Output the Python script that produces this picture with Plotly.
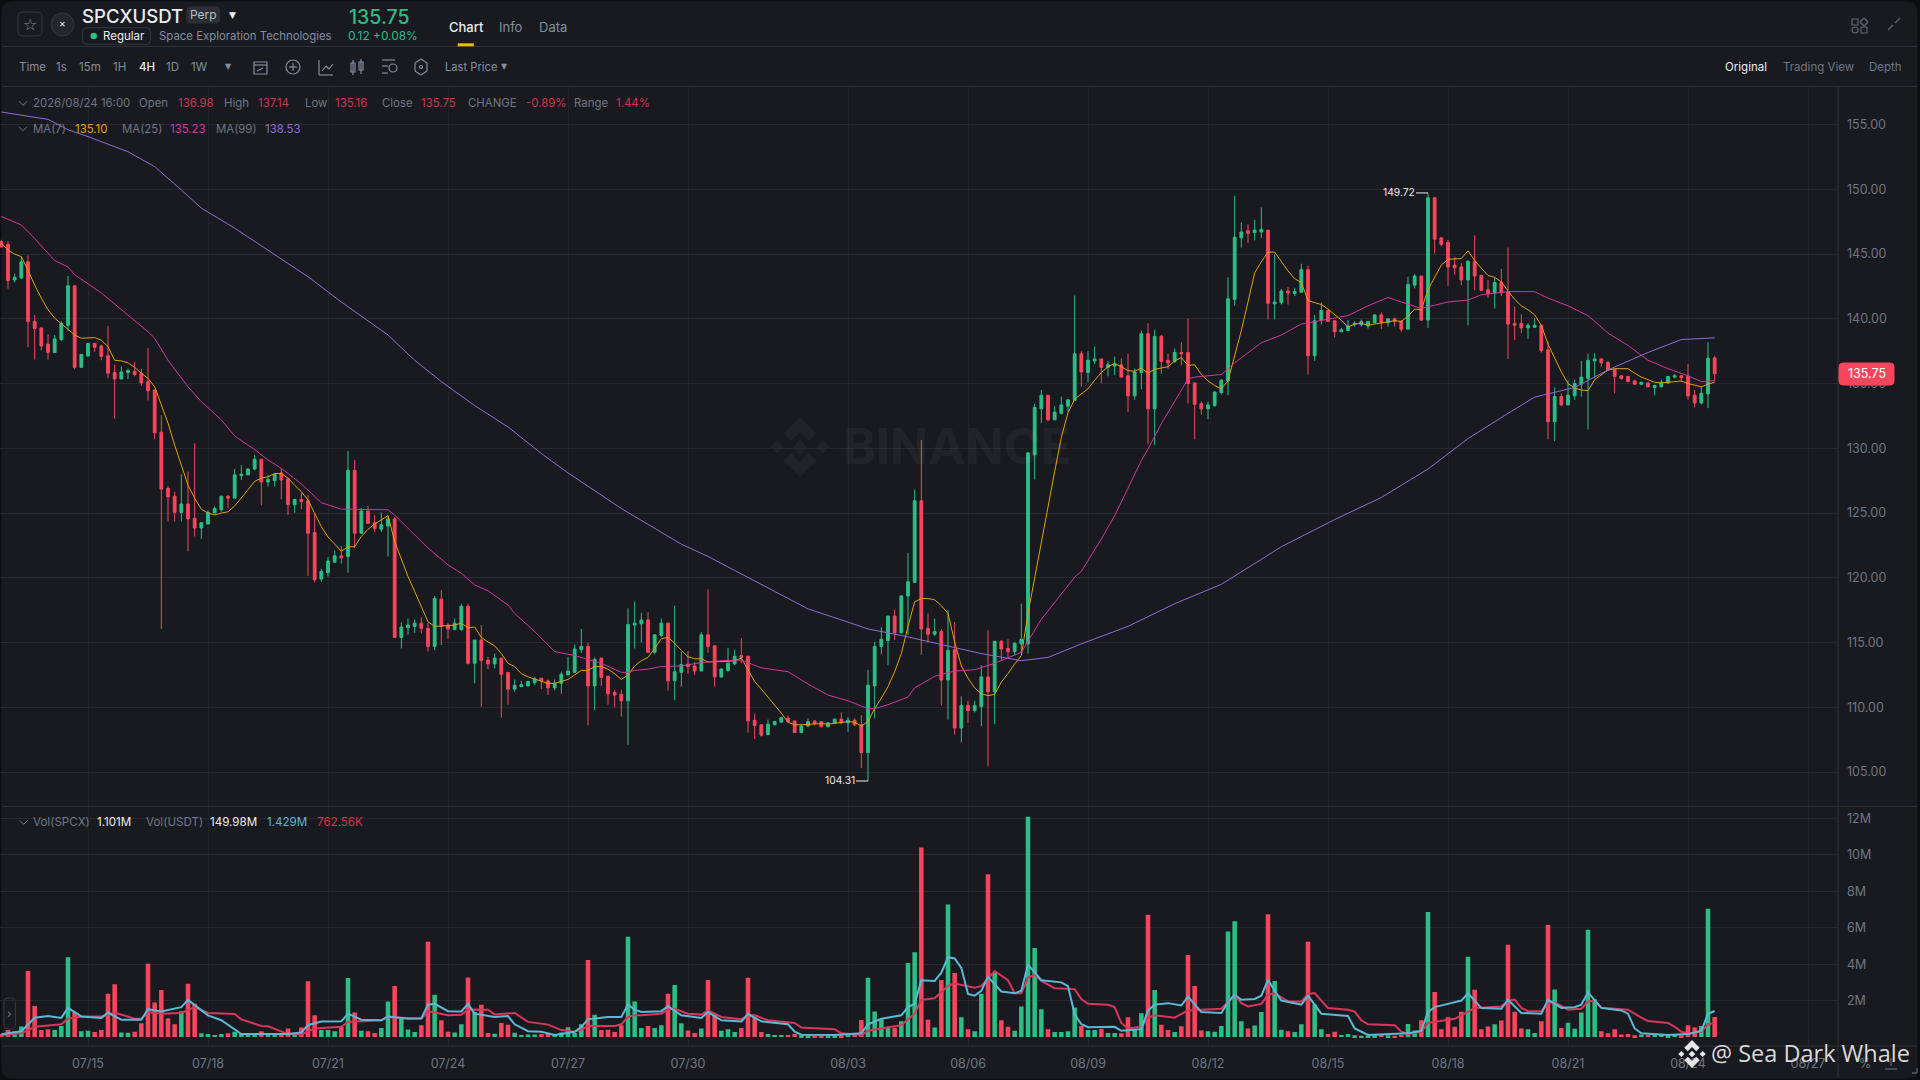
import plotly.graph_objs as go
from plotly.subplots import make_subplots
import pandas as pd

# 4H candles, values (bar -1 is the clipped one at the left edge)
opens = [145.96,
    145.75,143.0,143.15,144.4,139.8,139.3,138.05,137.4,138.4,139.5,
    142.55,136.25,137.15,138.1,137.9,137.15,135.85,135.35,135.85,135.95,
    135.8,135.15,134.5,131.25,126.9,126.3,125.05,125.7,124.6,123.85,
    124.15,125,125.25,126.3,126.15,127.9,127.95,128.4,129.15,127.4,
    127.5,128.1,127.65,125.65,126.05,125.95,123.5,119.9,120.4,121.2,
    121.7,121.65,128.3,123.45,125.15,124.25,123.75,124.0,124.55,115.4,
    116.15,116.25,116.5,116.1,114.7,118.35,116.35,116.0,116,117.8,
    113.4,115.2,113.65,113.35,113.8,112.7,111.4,111.6,111.65,111.9,
    112.25,112.05,111.5,111.85,112.5,112.7,114.45,114.7,111.65,113.8,
    112.4,111.15,111.0,110.5,116.35,116.45,116.75,114.25,115.55,116.5,
    112.05,112.7,113.35,113.2,112.8,115.6,114.75,112.35,112.85,113.35,
    114.0,113.95,109.0,108.65,107.9,108.65,108.85,109.15,108.95,108.05,
    108.55,108.95,108.9,108.5,108.75,109.1,108.8,109.0,108.65,106.5,
    111.65,114.7,115.15,117.05,115.75,118.6,119.65,125.95,116.1,115.65,
    115.85,112.1,114.45,108.4,110.15,109.75,110.05,112.35,111.2,115.1,
    114.55,114.3,114.9,114.9,129.5,133.05,134.1,132.2,132.7,133.25,
    133.7,137.3,135.85,136.75,136.9,136.25,136.35,136.45,135.6,134.05,
    135.85,138.85,133.05,138.65,136.8,136.7,137.4,137.4,135.05,133.45,
    133.05,133.3,134.3,135.2,141.5,146.25,146.8,146.65,146.7,146.85,
    141.15,141.25,142.15,141.95,142.05,143.8,137.15,139.9,140.65,139.85,
    139.0,139.1,139.55,139.55,139.45,139.7,140.3,139.7,140.0,139.8,
    139.2,142.6,143.3,139.9,149.35,146.25,145.9,144.15,144.0,143.0,
    144.45,143.35,142.25,142.0,142.8,142.1,139.65,139.65,139.3,139.35,
    139.5,137.6,132.05,134.0,133.35,134.05,134.95,135.4,136.75,136.9,
    136.65,136.1,135.6,135.55,135.2,134.95,135.05,134.7,134.75,135.05,
    135.5,135.6,135.55,134.1,133.5,134.2,136.98]

highs = [146.1,
    146.0,143.5,144.8,144.9,140.3,139.3,138.8,138.75,139.8,143.3,
    142.55,137.25,138.15,138.15,138.0,139.45,136.45,136.3,136.15,136.65,
    136.15,137.75,134.5,132.55,127.1,126.65,128.0,128.2,130.4,124.3,
    125.2,125.5,126.35,126.4,128.4,128.7,128.45,129.5,129.15,127.95,
    128.1,128.45,127.65,126.05,126.55,126.4,124.95,120.7,121.6,122.1,
    122.45,129.8,129.1,125.4,125.55,124.85,125.05,124.8,124.7,116.55,
    116.85,116.8,116.95,116.5,118.6,119.05,116.5,116.85,118.0,118.0,
    115.2,116.35,113.9,114.15,113.8,112.7,112.15,112.05,112.0,112.35,
    112.25,112.15,112.15,112.75,113.9,114.85,116.05,115.0,113.85,113.8,
    112.4,111.35,111.35,117.65,118.15,117.3,117.35,115.6,116.85,116.55,
    117.85,114.3,114.35,113.5,115.8,119.1,114.75,113.0,114.6,114.45,
    115.35,113.95,109.5,108.65,109.05,108.95,109.25,109.35,108.95,108.7,
    109.15,109.0,108.9,108.85,109.1,109.6,109.25,109.15,109.4,112.9,
    115.05,116.2,117.05,117.55,118.65,121.9,126.8,130.65,117.25,116.85,
    116.05,117.5,116.6,110.85,110.5,110.5,113.25,115.95,115.1,115.2,
    115.25,115.0,118.0,129.7,133.45,134.5,134.1,133.25,134.0,133.8,
    141.8,137.5,137.5,137.85,136.9,136.75,137.1,136.95,137.3,136.15,
    139.1,139.65,139.15,138.75,137.3,137.7,138.2,140.0,135.05,133.6,
    133.6,134.4,135.35,143.2,149.5,147.45,147.3,147.65,148.6,146.85,
    144.95,142.3,142.45,142.4,144.25,144.1,140.3,141.25,140.65,139.85,
    139.3,139.9,139.8,139.95,139.8,140.35,140.5,140.05,140.1,139.9,
    143.25,143.45,143.3,149.72,149.35,146.25,146.1,144.8,144.3,144.5,
    146.45,143.35,143.0,143.2,143.85,145.5,140.95,140.35,139.65,140.05,
    139.5,138.25,134.7,134.25,135.25,135.3,136.75,137.3,137.35,136.95,
    136.7,136.1,135.6,135.6,135.3,135.15,135.1,134.9,135.3,135.55,
    135.75,135.65,136.5,134.5,134.75,138.2,137.14]

lows = [145.5,
    142.33,142.8,143.1,137.8,136.85,137.55,136.85,137.4,138.3,139.05,
    136.1,136.2,137.05,137.45,136.8,135.4,132.3,135.35,135.35,135.55,
    134.8,133.7,130.7,116.05,124.35,124.35,124.35,122.05,123.2,123.0,
    124.15,125,125.1,125.4,126.15,127.55,127.9,128.3,125.6,127.05,
    127.05,126.05,124.85,125.0,125.3,120.15,119.65,119.7,120.1,121.2,
    121.1,120.4,122.3,123.4,124.2,123.55,123.55,121.65,115.35,114.55,
    115.6,115.75,115.7,114.3,114.4,114.8,115.25,116,115.9,113.3,
    111.85,110.05,112.95,113.0,109.2,110.2,111.2,111.55,111.6,111.7,
    111.4,110.95,111.3,111.05,112.5,112.7,114.2,108.6,109.8,111.65,
    110.2,110.0,109.3,107.1,114.55,115.0,114.2,114.1,115.45,111.3,
    110.55,111.6,112.6,112.5,112.8,114.2,111.6,112.3,112.75,113.25,
    113.4,108.05,107.55,107.75,107.85,108.6,108.85,108.8,108.05,108.0,
    108.5,108.6,108.45,108.45,108.75,108.7,108.1,108.55,105.3,104.31,
    109.15,114.1,113.25,115.2,115.7,115.6,119.6,114.05,115.0,115.5,
    110.15,109.05,107.9,107.3,108.8,109.6,108.55,105.45,108.7,113.6,
    113.9,114.0,114.15,114.15,127.6,131.95,132.1,132.2,132.6,132.8,
    133.7,134.75,135.1,136.5,135.05,135.55,135.65,135.5,132.8,133.75,
    134.55,130.35,130.25,135.75,136.15,136.6,136.4,133.45,130.7,132.6,
    132.25,133.2,134.15,134.1,141.0,145.5,145.85,146.05,146.25,139.95,
    139.95,141.1,141.1,141.75,142.05,135.7,136.75,139.55,139.75,138.55,
    139.0,139.05,139.4,139.4,139.25,139.65,139.2,139.4,139.4,139.0,
    139.2,142.35,139.85,139.3,145.05,145.6,142.55,143.4,142.6,139.5,
    142.2,142.2,141.6,140.8,141.75,136.9,138.35,138.9,138.45,139.3,
    137.4,130.7,130.55,133.25,133.35,133.75,134.0,131.45,135.4,136.3,
    136.0,134.25,135.3,135.1,134.9,134.9,134.7,134.1,134.7,135.0,
    135.4,135.15,133.75,133.15,133.4,133.1,135.16]

closes = [145.55,
    142.95,143.2,144.4,139.8,139.25,137.9,137.4,138.45,139.65,142.55,
    136.25,137.25,138.1,137.8,137.1,135.8,135.35,135.9,136.0,135.7,
    135.05,134.45,131.2,126.85,126.25,125.05,125.7,124.55,123.85,124.25,
    125.05,125.35,126.3,126.15,127.95,128.0,128.4,129.15,127.4,127.6,
    128.0,127.55,125.65,126.05,125.9,123.45,119.85,120.5,121.3,121.7,
    121.55,128.3,123.45,125.15,124.2,123.8,124.1,124.55,115.4,116.2,
    116.35,116.5,116.1,114.7,118.4,116.25,116.05,116.5,117.8,113.4,
    115.2,113.6,113.35,113.8,112.55,111.4,111.7,111.75,112.0,112.2,
    112.05,111.5,111.85,112.55,112.8,114.5,114.7,111.65,113.7,112.3,
    111.05,110.95,110.5,116.4,116.5,116.75,114.25,115.6,116.5,112.05,
    112.75,113.3,113.15,112.8,115.6,114.7,112.35,112.95,113.4,113.95,
    113.85,108.95,108.6,107.85,108.7,108.9,109.2,108.9,108.05,108.55,
    108.9,108.75,108.5,108.8,109.1,108.8,109.0,108.65,106.5,111.7,
    114.7,115.25,117.05,115.75,118.6,119.7,125.95,116.05,115.65,115.85,
    112.1,114.4,108.4,110.15,109.75,110.15,112.35,111.2,115.1,114.5,
    114.3,114.95,115.25,129.65,133.15,134.1,132.2,132.8,133.35,133.75,
    137.3,135.9,136.8,136.9,136.25,136.45,136.5,135.5,134.05,135.9,
    138.85,133.05,138.65,136.7,136.6,137.4,137.3,135.0,133.4,133.05,
    133.35,134.35,135.25,141.55,146.3,146.7,146.6,146.85,146.9,141.2,
    141.3,142.15,142.0,142.1,143.8,137.15,139.85,140.65,139.8,139.0,
    139.15,139.45,139.65,139.8,139.8,140.3,139.7,140.0,139.8,139.2,
    142.65,143.3,139.9,149.35,146.15,145.75,144.0,143.95,143.0,144.45,
    143.3,142.2,141.95,142.8,142.0,139.6,139.5,139.3,139.5,139.5,
    137.55,132.05,134.0,133.35,134.1,135.0,135.5,136.8,136.9,136.6,
    136.05,135.55,135.4,135.15,134.95,135.1,134.75,134.85,135.1,135.55,
    135.6,135.45,134.05,133.5,134.25,136.95,135.75]

volumes = [.15,
    .38,.3,.58,3.62,1.7,.38,.43,.38,.6,4.38,
    1.37,.32,.34,.27,.38,2.38,2.9,.25,.23,.29,
    .76,4.02,1.89,2.58,1.03,.7,1.42,2.92,1.82,.2,
    .16,.11,.16,.2,.29,.16,.14,.11,.31,.14,
    .14,.13,.47,.16,.52,3.06,1.19,.38,.38,.31,
    .56,3.24,1.35,.34,.32,.22,.5,1.95,2.8,1.0,
    .41,.27,.65,5.23,2.32,.92,.29,.25,.7,3.27,
    1.37,1.77,.22,.18,.77,.68,.23,.11,.14,.14,
    .16,.2,.11,.25,.54,.22,.7,4.23,1.22,.38,
    .4,.27,.65,5.5,1.95,.49,.61,.5,.65,2.38,
    2.85,.76,.36,.22,.47,3.13,1.23,.34,.43,.27,
    .49,3.25,1.08,.27,.16,.11,.11,.11,.16,.09,
    .09,.05,.05,.05,.07,.09,.22,.13,.94,3.25,
    1.4,1.0,.56,.49,.86,4.06,4.66,10.41,.95,.52,
    3.13,7.27,3.52,1.08,.43,.32,2.38,8.94,3.52,.92,
    .56,.34,1.68,12.09,4.89,1.53,.43,.27,.27,.31,
    1.62,.61,.38,.38,.45,.22,.22,.2,1.08,.43,
    1.3,6.71,2.58,.68,.38,.27,.59,4.5,2.8,.36,
    .31,.29,.61,5.8,6.36,.86,.47,.63,1.37,6.74,
    3.07,.4,.32,.27,.7,5.23,1.78,.43,.16,.29,
    .11,.16,.09,.07,.07,.09,.11,.09,.07,.11,
    .72,.36,.92,6.87,2.47,.43,1.08,.56,1.39,4.41,
    2.59,.43,.58,.7,.9,5.07,1.39,.47,.43,.22,
    .86,6.15,2.61,.49,.79,.45,1.35,5.89,2.07,.31,
    .2,.43,.14,.16,.09,.14,.11,.13,.11,.09,
    .11,.09,.65,.52,.61,7.04,1.101]

ma7 = [145.85,
    145.3,145.0,144.8,143.75,142.6,141.6,140.7,140.05,139.6,139.2,
    138.75,138.5,138.5,138.55,138.35,137.85,136.8,136.75,136.6,136.25,
    135.8,135.4,134.75,133.35,131.95,130.25,128.7,127.15,126.15,125.3,
    125.0,124.85,125,125.1,125.55,126.15,126.8,127.45,127.7,127.8,
    128.05,128.05,127.7,127.15,126.65,126.0,125.0,123.95,123.15,122.6,
    122.05,122.4,122.4,123.2,123.75,124.15,124.45,124.8,122.8,121.4,
    120.1,118.95,117.8,116.6,116.25,116.3,116.3,116.35,116.5,116.15,
    116.2,115.4,115.05,114.75,114.15,113.4,113.15,112.6,112.35,112.2,
    112,111.85,111.85,112,112.15,112.5,112.85,112.85,113.15,113.15,
    112.95,112.6,112.15,112.5,113.2,113.6,113.85,114.55,115.3,115.4,
    114.95,114.4,113.9,113.75,113.75,113.5,113.5,113.5,113.55,113.6,
    113.8,112.9,112,111.4,110.8,110.2,109.55,108.85,108.65,108.65,
    108.7,108.75,108.75,108.7,108.75,108.85,108.9,108.85,108.55,108.9,
    109.9,110.7,111.6,112.75,114.15,116.25,118.15,118.4,118.4,118.3,
    117.85,117.25,115.05,113.2,112.25,111.5,111.05,110.9,111.0,111.95,
    112.6,113.35,114,117.25,120.05,122.7,125.4,128.2,130.85,132.75,
    133.8,134.2,134.6,135.25,135.85,136.3,136.55,136.3,136,135.95,
    136.2,135.8,136.1,136.2,136.3,136.75,137,136.4,136.45,135.7,
    135.2,134.85,134.6,135.2,137.05,139.1,141.3,143.55,144.4,145.15,
    145.15,144.4,143.7,143.1,142.8,141.4,141.25,141.1,140.75,140.3,
    139.9,139.35,139.6,139.65,139.5,139.6,139.7,139.8,139.85,139.8,
    140.2,140.75,140.7,142.25,143.25,144.15,144.6,144.65,144.65,145.25,
    144.5,143.9,143.35,143.2,142.85,142.15,141.5,141,140.7,140.3,
    139.5,138.05,136.95,135.9,135,134.65,134.5,134.45,135.3,135.65,
    136.05,136.15,136.15,136.15,135.8,135.5,135.3,135.1,135.05,135.1,
    135.15,135.2,135,134.9,134.75,134.95,135.1]

# the slower lines are read at fewer bars
ma25_bars = [-1,2,4,7,9,10,14,18,21,22,24,27,29,32,34,37,39,41,44,47,50,51,57,58,63,66,68,70,72,75,76,79,82,85,87,89,
             92,93,94,96,98,101,104,107,110,113,117,120,123,126,128,129,130,132,135,136,139,142,145,148,152,155,158,
             160,161,164,166,170,171,173,177,178,182,184,188,191,194,196,201,204,207,209,212,214,216,219,221,225,229,
             231,234,237,240,243,246,249,252,254,256]
ma25 = [147.9,147.25,146.2,144.5,144,143.4,142,140.3,139,138.5,136.8,134.75,133.6,132.2,130.95,129.9,129.1,128.45,127.25,
        125.8,125.3,125.3,125.25,124.85,122.3,121,120.35,119.45,119.0,117.9,117.25,115.85,114.3,114,113.7,113.4,
        112.7,112.7,112.85,112.95,113.15,113.2,113.45,113.6,113.65,113.05,112.75,111.8,110.95,110.5,110.1,109.9,109.9,110.2,110.8,111.5,112.4,112.8,112.9,113.4,114.25,116.8,118.75,
        120.05,120.5,123.0,124.8,129.05,129.95,131.9,135.35,135.5,135.7,136.6,138.15,138.75,139.6,139.8,140.25,141,141.65,141.3,140.8,141.05,141.3,141.45,141.85,142.1,142.1,
        141.6,141,140.25,138.9,137.95,136.8,136.15,135.6,135.15,135.23]

ma99_bars = [-1,2,6,9,12,18,22,26,29,34,39,45,50,57,61,65,70,75,80,84,92,101,105,110,115,120,125,129,134,141,146,152,156,
             161,168,175,182,187,191,199,206,213,219,225,229,235,240,246,251,256]
ma99 = [155.97,155.74,155.4,154.6,154.07,152.9,151.75,149.95,148.55,147,145.3,143.25,141.3,138.75,136.8,135.15,133.3,131.65,
        129.6,128.1,125.35,122.6,121.65,120.3,118.95,117.6,116.75,116.05,115.55,114.7,114.15,113.6,113.85,
        114.9,116.25,118,119.5,121.1,122.4,124.5,126.2,128.4,130.75,132.7,133.95,134.7,136.05,137.4,138.4,138.53]

vol_ma5_bars = [-1,2,4,6,8,9,11,14,15,17,20,21,23,26,27,30,32,35,42,44,45,47,50,51,53,56,57,60,62,63,64,66,68,69,70,73,75,76,78,80,82,85,86,87,90,92,93,94,
                95,98,99,101,104,105,107,110,111,113,117,118,119,124,128,129,131,134,135,136,137,139,140,141,142,143,144,145,146,147,149,151,152,153,155,158,159,160,161,162,166,167,170,171,172,174,176,177,179,182,183,184,185,187,188,189,190,
                191,194,195,197,201,202,204,210,212,213,214,216,218,219,221,224,225,227,230,231,233,235,236,237,239,242,243,244,245,249,252,254,255,256]
vol_ma5 = [.15,.32,1.06,1.15,1.05,1.6,1.13,1.05,1.33,.95,.95,1.53,1.4,1.64,2.04,1.19,.92,.16,.16,.25,.65,.85,.86,1.28,.95,.92,1.13,1.0,1.03,1.77,1.82,1.42,1.4,1.82,1.28,1.1,1.15,.7,.32,.29,.11,.29,.56,.97,1.1,1.1,1.78,1.5,
           1.37,1.42,1.69,1.19,1.05,1.37,.92,.85,1.26,.86,.7,.29,.13,.11,.2,.7,1.0,1.19,1.64,1.82,3.12,3.08,3.53,4.38,4.31,3.8,2.36,2.27,2.54,3.3,2.5,2.4,2.54,3.98,3.12,3.0,2.79,1.24,.7,.54,.56,.34,.43,1.46,1.78,1.86,1.73,2.22,1.37,1.32,1.91,2.32,2.05,2.09,2.27,3.14,2.54,
           2.0,1.78,2.27,1.28,1.15,.47,.11,.2,.34,1.37,1.64,1.82,2.0,2.4,1.59,1.55,2.05,1.32,1.28,2.05,1.6,1.64,1.78,2.45,1.6,1.46,1.28,.47,.2,.11,.16,.34,1.28,1.429]

vol_ma10_bars = [-1,2,4,8,9,11,14,16,19,20,21,23,26,28,30,34,35,38,39,42,44,46,50,51,56,57,62,63,66,68,69,72,73,76,78,81,83,85,86,87,91,92,93,94,
                 95,98,99,100,102,104,105,107,110,111,112,114,118,119,124,125,128,129,133,134,136,137,139,141,142,145,146,148,150,151,152,153,154,155,157,160,161,162,165,166,167,168,170,171,172,175,177,182,184,185,186,188,189,190,
                 191,192,194,195,196,198,201,202,203,204,208,209,210,212,213,217,218,219,220,224,225,226,227,228,230,231,232,234,236,237,238,239,243,245,246,249,250,251,252,254,255,256]
vol_ma10 = [.11,.2,.56,.7,1.0,1.13,1.13,1.35,1.0,1.0,1.37,1.28,1.32,1.64,1.32,1.26,.97,.61,.59,.16,.14,.47,.56,.83,.92,1.1,1.0,1.42,1.19,1.22,1.51,1.5,1.24,1.32,.83,.68,.38,.29,.41,.61,.61,.7,1.1,1.19,
            1.19,1.28,1.51,1.55,1.28,1.23,1.46,1.1,.97,1.19,1.19,.92,.77,.52,.43,.2,.11,.34,.59,.65,1.28,2.04,2.13,2.81,2.94,2.7,2.81,3.62,3.12,2.4,2.4,3.26,3.4,3.08,2.68,2.63,2.09,1.82,1.77,1.64,.77,.47,.56,1.06,1.19,1.06,1.46,1.55,2.31,1.86,1.68,1.82,2.32,2.4,
            2.18,1.96,1.95,2.36,2.41,1.59,1.5,1.4,.92,.7,.65,.29,.16,.29,.77,1.0,1.19,1.37,1.59,1.68,2.0,2.05,1.6,1.42,1.42,1.87,1.91,1.5,1.55,1.95,2.0,1.6,1.5,1.06,.88,.77,.56,.29,.2,.29,.7,.76256]

first_bar = pd.Timestamp("2026-07-13 00:00")
bar_step = pd.Timedelta(hours=4)


def bar_time(i):
    return first_bar + i * bar_step


times = [bar_time(i) for i in range(-1, 257)]

date_ticks = ["2026-07-15", "2026-07-18", "2026-07-21", "2026-07-24", "2026-07-27", "2026-07-30", "2026-08-03",
              "2026-08-06", "2026-08-09", "2026-08-12", "2026-08-15", "2026-08-18", "2026-08-21", "2026-08-24",
              "2026-08-27"]
date_labels = ["07/15", "07/18", "07/21", "07/24", "07/27", "07/30", "08/03", "08/06", "08/09", "08/12", "08/15",
               "08/18", "08/21", "08/24", "08/27"]
price_ticks = [105, 110, 115, 120, 125, 130, 135, 140, 145, 150, 155]
vol_ticks = [2, 4, 6, 8, 10, 12]
vol_labels = ["2M", "4M", "6M", "8M", "10M", "12M"]

W, H = 1920, 1080
BG = "#181a20"
GRID_X = "#212329"
GRID_Y = "#25282f"
LINE = "#2b3139"
GREEN = "#2ebd85"
RED = "#f6465d"
DIM_RED = "#d9304e"
GREY = "#6f7683"
SOFT = "#848e9c"
WHITE = "#eaecef"
PURPLE = "#8f6bd8"
FONT = "Inter"


def fx(x):
    return x / W


def fy(y):
    return 1 - y / H


def poly(points):
    return "M " + " L ".join(f"{fx(x):.5f},{fy(y):.5f}" for x, y in points) + " Z"


fig = make_subplots(rows=2, cols=1, shared_xaxes=True)

fig.add_trace(go.Candlestick(x=times, open=opens, high=highs, low=lows, close=closes,
                             increasing=dict(line=dict(color=GREEN, width=1), fillcolor=GREEN),
                             decreasing=dict(line=dict(color=RED, width=1), fillcolor=RED),
                             whiskerwidth=0, hoverinfo="skip"), row=1, col=1)
fig.add_trace(go.Scatter(x=times, y=ma7, mode="lines", line=dict(color="#e3a008", width=1)), row=1, col=1)
fig.add_trace(go.Scatter(x=[bar_time(i) for i in ma25_bars], y=ma25, mode="lines",
                         line=dict(color="#d6339e", width=1)), row=1, col=1)
fig.add_trace(go.Scatter(x=[bar_time(i) for i in ma99_bars], y=ma99, mode="lines",
                         line=dict(color=PURPLE, width=1)), row=1, col=1)

bar_colors = [GREEN if c >= o else RED for o, c in zip(opens, closes)]
fig.add_trace(go.Bar(x=times, y=volumes, marker=dict(color=bar_colors, line_width=0)), row=2, col=1)
fig.add_trace(go.Scatter(x=[bar_time(i) for i in vol_ma10_bars], y=vol_ma10, mode="lines",
                         line=dict(color="#d9365c", width=2)), row=2, col=1)
fig.add_trace(go.Scatter(x=[bar_time(i) for i in vol_ma5_bars], y=vol_ma5, mode="lines",
                         line=dict(color="#5ab9d6", width=2)), row=2, col=1)

x_range = ["2026-07-12 19:12", "2026-08-27 18:00"]
x_style = dict(range=x_range, domain=[0, 1838 / W], tickmode="array", tickvals=date_ticks, showgrid=True,
               gridcolor=GRID_X, gridwidth=1, zeroline=False, showline=False, ticks="", fixedrange=True,
               rangeslider=dict(visible=False))
fig.update_xaxes(**x_style)
fig.update_xaxes(showticklabels=False, row=1, col=1)
fig.update_xaxes(ticktext=date_labels, showticklabels=True, tickfont=dict(family=FONT, size=12.5, color=GREY),
                 ticklabelstandoff=9, row=2, col=1)

fig.update_yaxes(side="right", showgrid=True, gridcolor=GRID_Y, gridwidth=1, zeroline=False, showline=False, ticks="",
                 tickfont=dict(family=FONT, size=12.5, color=GREY), ticklabelstandoff=8, fixedrange=True)
fig.update_yaxes(domain=[fy(806), fy(87)], range=[102.38, 157.9], tickmode="array", tickvals=price_ticks,
                 tickformat=".2f", row=1, col=1)
fig.update_yaxes(domain=[fy(1045.5), fy(807)], range=[-0.466, 12.63], tickmode="array", tickvals=vol_ticks,
                 ticktext=vol_labels, row=2, col=1)

shapes = []
annotations = []


def label(x, y, text, color=GREY, size=12, anchor="left", weight=400, family=FONT):
    if anchor == "left":
        x -= 1.2  # annotation boxes carry a little padding
    annotations.append(dict(xref="paper", yref="paper", x=fx(x), y=fy(y), text=text, showarrow=False,
                            xanchor=anchor, yanchor="middle", borderpad=0,
                            font=dict(family=family, size=size, color=color, weight=weight)))


def hline(x0, x1, y, color=LINE, width=1):
    shapes.append(dict(type="line", xref="paper", yref="paper", x0=fx(x0), x1=fx(x1), y0=fy(y), y1=fy(y),
                       line=dict(color=color, width=width)))


def seg(x0, y0, x1, y1, color=SOFT, width=1.2):
    shapes.append(dict(type="line", xref="paper", yref="paper", x0=fx(x0), x1=fx(x1), y0=fy(y0), y1=fy(y1),
                       line=dict(color=color, width=width)))


def box(x0, y0, x1, y1, fill="rgba(0,0,0,0)", color=SOFT, width=1.2, kind="rect", layer="above"):
    shapes.append(dict(type=kind, xref="paper", yref="paper", x0=fx(x0), x1=fx(x1), y0=fy(y1), y1=fy(y0),
                       fillcolor=fill, line=dict(color=color, width=width), layer=layer))


def rounded(x0, y0, x1, y1, r, fill, color=None, width=1, layer="above"):
    p = (f"M {fx(x0 + r)},{fy(y0)} L {fx(x1 - r)},{fy(y0)} Q {fx(x1)},{fy(y0)} {fx(x1)},{fy(y0 + r)} "
         f"L {fx(x1)},{fy(y1 - r)} Q {fx(x1)},{fy(y1)} {fx(x1 - r)},{fy(y1)} "
         f"L {fx(x0 + r)},{fy(y1)} Q {fx(x0)},{fy(y1)} {fx(x0)},{fy(y1 - r)} "
         f"L {fx(x0)},{fy(y0 + r)} Q {fx(x0)},{fy(y0)} {fx(x0 + r)},{fy(y0)} Z")
    shapes.append(dict(type="path", xref="paper", yref="paper", path=p, fillcolor=fill, layer=layer,
                       line=dict(color=color or fill, width=width)))


def binance_logo(cx, cy, s, color, layer="above"):
    parts = [
        [(0, -1), (.55, -.45), (.3, -.2), (0, -.5), (-.3, -.2), (-.55, -.45)],
        [(0, 1), (.55, .45), (.3, .2), (0, .5), (-.3, .2), (-.55, .45)],
        [(0, -.24), (.24, 0), (0, .24), (-.24, 0)],
        [(-.76, -.22), (-.54, 0), (-.76, .22), (-.98, 0)],
        [(.76, -.22), (.98, 0), (.76, .22), (.54, 0)],
    ]
    for part in parts:
        shapes.append(dict(type="path", xref="paper", yref="paper", layer=layer, fillcolor=color, line_width=0,
                           path=poly([(cx + a * s, cy + b * s) for a, b in part])))


# panel
rounded(2, 2, 1917, 1078, 10, BG, layer="below")
hline(2, 1917, 46.5)
hline(2, 1917, 86.5)
hline(2, 1917, 806.5)
hline(2, 1917, 1046)
seg(1838, 87, 1838, 1078, LINE, 1)

# watermark
binance_logo(800, 447, 30, "rgba(255,255,255,0.045)", layer="below")
label(843, 446, "BINANCE", "rgba(255,255,255,0.045)", 50, weight=700)

# header
rounded(18, 12, 42, 36, 5, "rgba(0,0,0,0)", "#333840")
label(30, 24, "☆", SOFT, 16, "center", family="DejaVu Sans")
box(51, 13, 74, 36, "#23262d", "#333840", 1, "circle")
label(62.5, 24, "✕", WHITE, 8, "center", family="DejaVu Sans")
label(82, 16, "SPCXUSDT", WHITE, 18.6, weight=500)
rounded(187, 7, 219.5, 23, 3, "#2b2f36")
label(203, 15, "Perp", "#b7bdc6", 12, "center")
label(232, 15, "▼", WHITE, 9, "center", family="DejaVu Sans")
rounded(82.6, 27.7, 150.6, 44.3, 4, "rgba(0,0,0,0)", "#333840")
box(90.5, 32.8, 97, 39.3, GREEN, GREEN, 0, "circle")
label(103, 36, "Regular", WHITE, 11.5)
label(159, 36, "Space Exploration Technologies", SOFT, 11.4)
label(349, 17, "135.75", GREEN, 19.5, weight=500)
label(348, 36, "0.12 +0.08%", GREEN, 11.9)
label(449, 26.7, "Chart", WHITE, 13, weight=500)
label(499.5, 26.7, "Info", SOFT, 13)
label(539.5, 26.7, "Data", SOFT, 13)
shapes.append(dict(type="rect", xref="paper", yref="paper", x0=fx(457.7), x1=fx(473.8), y0=fy(46.3), y1=fy(43.3),
                   fillcolor="#f0b90b", line_width=0))
box(1852, 19, 1858, 25, color="#5e6673")
box(1852, 27, 1858, 33, color="#5e6673", kind="circle")
box(1861, 27, 1867, 33, color="#5e6673")
seg(1864, 18, 1868, 22, "#5e6673")
seg(1868, 22, 1864, 26, "#5e6673")
seg(1864, 26, 1860, 22, "#5e6673")
seg(1860, 22, 1864, 18, "#5e6673")
seg(1888, 30, 1893, 25, "#5e6673")
seg(1895, 23, 1900, 18, "#5e6673")

# toolbar
for tx, tt, tc in [(19.3, "Time", SOFT), (56.5, "1s", SOFT), (79.4, "15m", SOFT), (113.6, "1H", SOFT),
                   (139, "4H", WHITE), (165.7, "1D", SOFT), (191, "1W", SOFT)]:
    label(tx, 67.3, tt, tc, 11.5, weight=500 if tc == WHITE else 400)
label(228.5, 67, "▼", SOFT, 8, "center", family="DejaVu Sans")
label(445, 67.3, "Last Price", SOFT, 11.2)
label(504.5, 67, "▼", SOFT, 8, "center", family="DejaVu Sans")
label(1725, 67, "Original", WHITE, 11.5)
label(1783, 67, "Trading View", GREY, 11.5)
label(1869, 67, "Depth", GREY, 11.5)
box(254, 62, 267, 74)
seg(254, 65, 267, 65)
seg(263, 68, 257, 71)
box(286, 60, 300, 74, kind="circle")
seg(289, 67, 297, 67)
seg(293, 63, 293, 71)
seg(319, 60, 319, 75)
seg(319, 75, 333, 75)
seg(322, 71, 326, 66)
seg(326, 66, 329, 69)
seg(329, 69, 333, 64)
box(351, 63, 355, 72)
seg(353, 60, 353, 75)
box(359, 62, 363, 70)
seg(361, 59, 361, 74)
seg(382, 60, 395, 60)
seg(382, 66, 388, 66)
seg(382, 73, 388, 73)
box(389, 64, 397, 72, kind="circle")
seg(421, 59, 427, 63)
seg(427, 63, 427, 71)
seg(427, 71, 421, 75)
seg(421, 75, 415, 71)
seg(415, 71, 415, 63)
seg(415, 63, 421, 59)
box(419.5, 65.5, 422.5, 68.5, kind="circle")


def chevron(cx, cy):
    seg(cx - 4, cy - 2, cx, cy + 2, GREY, 1)
    seg(cx, cy + 2, cx + 4, cy - 2, GREY, 1)


# ohlc readout
chevron(23, 103.3)
for tx, tt, tc in [(33, "2026/08/24 16:00", GREY), (139, "Open", GREY), (177.7, "136.98", DIM_RED), (224, "High", GREY),
                   (258.5, "137.14", DIM_RED), (305, "Low", GREY), (335.6, "135.16", DIM_RED), (382.5, "Close", GREY),
                   (421.5, "135.75", DIM_RED), (468, "CHANGE", GREY), (526.6, "-0.89%", DIM_RED), (574, "Range", GREY),
                   (616.6, "1.44%", DIM_RED)]:
    label(tx, 102.8, tt, tc, 11.4)
chevron(23, 128.8)
for tx, tt, tc in [(33, "MA(7)", GREY), (74.8, "135.10", "#e3a008"), (121.7, "MA(25)", GREY), (170, "135.23", "#d6339e"),
                   (216, "MA(99)", GREY), (265, "138.53", PURPLE)]:
    label(tx, 128.8, tt, tc, 11.4)
chevron(23.7, 822.3)
for tx, tt, tc in [(33.5, "Vol(SPCX)", GREY), (97, "1.101M", WHITE), (146, "Vol(USDT)", GREY), (210, "149.98M", WHITE),
                   (267, "1.429M", "#5ab9d6"), (316.7, "762.56K", DIM_RED)]:
    label(tx, 822.3, tt, tc, 11.6)

# high / low marks
for i, value in [(213, 149.72), (129, 104.31)]:
    shapes.append(dict(type="line", xref="x", yref="y", x0=bar_time(i - 1.8), x1=bar_time(i), y0=value, y1=value,
                       line=dict(color=WHITE, width=1)))
    annotations.append(dict(xref="x", yref="y", x=bar_time(i - 2.1), y=value, text=f"{value:.2f}", showarrow=False,
                            xanchor="right", yanchor="middle", xshift=3, yshift=1,
                            font=dict(family=FONT, size=10.3, color=WHITE)))

# last price tag
rounded(1839, 363, 1894, 385, 4, RED)
annotations.append(dict(xref="paper", yref="y", x=fx(1866.5), y=closes[-1], text=f"{closes[-1]:.2f}", showarrow=False,
                        xanchor="center", yanchor="middle", font=dict(family=FONT, size=12.5, color="#ffffff")))

# bottom bits
rounded(4, 998, 15.5, 1029, 4, "rgba(0,0,0,0)", "#333840")
label(9.7, 1013, "›", GREY, 12, "center")
label(1865, 1063, "%", GREY, 12.5, "center")
seg(1885, 1069, 1897, 1069, GREY, 1)
seg(1891, 1058, 1891, 1066, GREY, 1)
seg(1912, 1073, 1917, 1073, GREY, 1)
seg(1917, 1073, 1917, 1068, GREY, 1)

# user watermark
binance_logo(1692, 1054, 14, "#e6e6e6")
label(1711, 1053, "@ Sea Dark Whale", "#d8d8d8", 23.5, family="Open Sans")

fig.update_layout(width=W, height=H, margin=dict(l=0, r=0, t=0, b=0), autosize=False, showlegend=False,
                  paper_bgcolor="#0b0e11", plot_bgcolor="rgba(0,0,0,0)", bargap=0.32, boxgap=0.4, hovermode=False,
                  shapes=shapes, annotations=annotations)

fig.write_html("out.html", post_script="document.body.style.margin='0';document.body.style.overflow='hidden';",
               config=dict(displayModeBar=False))
